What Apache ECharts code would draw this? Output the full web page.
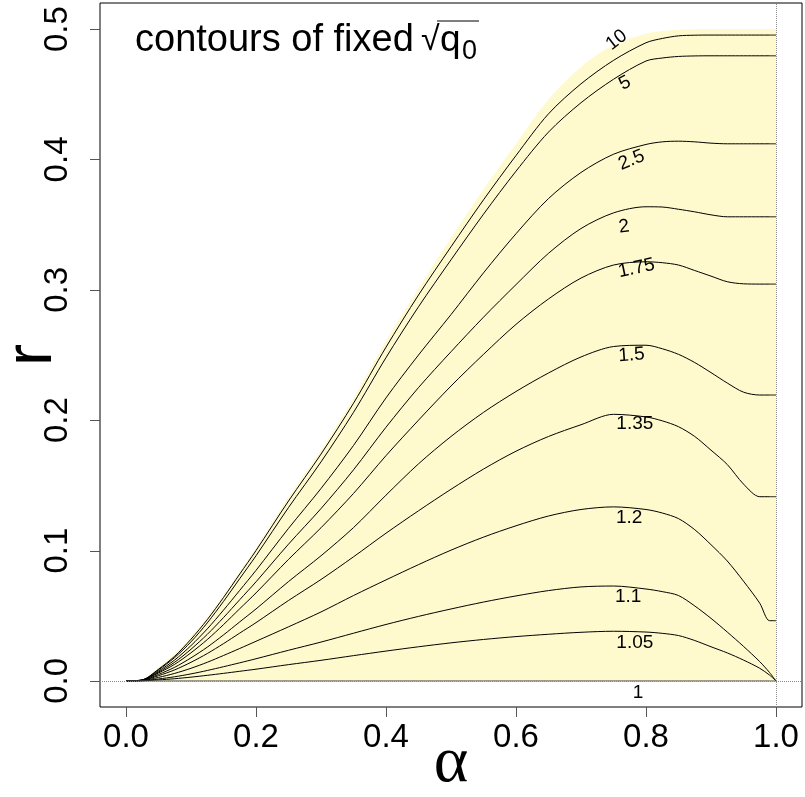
<!DOCTYPE html>
<html>
<head>
<meta charset="utf-8">
<script src="https://cdn.jsdelivr.net/npm/echarts@6/dist/echarts.min.js"></script>
<style>
html,body{margin:0;padding:0;background:#fff;}
#chart{width:805px;height:797px;}
</style>
</head>
<body>
<div id="chart"></div>
<script>
// ---- data ----
const alpha = [0, 0.025, 0.05, 0.075, 0.1, 0.125, 0.15, 0.175, 0.2, 0.25, 0.3, 0.35, 0.4, 0.45, 0.5, 0.55, 0.6, 0.65, 0.7, 0.75, 0.8, 0.825, 0.85, 0.875, 0.9, 0.925, 0.95, 0.975, 0.99, 1.0];

const boundary = [0, 0.0012, 0.0105, 0.021, 0.034, 0.049, 0.066, 0.084, 0.102, 0.141, 0.177, 0.217, 0.261, 0.301, 0.34, 0.377, 0.412, 0.446, 0.471, 0.488, 0.4965, 0.4985, 0.4995, 0.4999, 0.5, 0.5, 0.5, 0.5, 0.5, 0.5];

const r10   = [0, 0.0008, 0.009, 0.019, 0.032, 0.047, 0.064, 0.082, 0.1, 0.138, 0.174, 0.213, 0.256, 0.296, 0.333, 0.369, 0.403, 0.435, 0.458, 0.476, 0.4895, 0.4928, 0.4948, 0.4953, 0.4954, 0.4954, 0.4954, 0.4954, 0.4954, 0.4954];
const r5    = [0, 0.0007, 0.0085, 0.018, 0.030, 0.0445, 0.061, 0.0785, 0.096, 0.133, 0.168, 0.206, 0.248, 0.287, 0.323, 0.358, 0.391, 0.421, 0.4435, 0.4615, 0.4755, 0.4778, 0.479, 0.4794, 0.4795, 0.4795, 0.4795, 0.4795, 0.4795, 0.4795];
const r2_5  = [0, 0.0007, 0.0076, 0.0161, 0.0271, 0.0399, 0.0543, 0.0695, 0.0848, 0.117, 0.1476, 0.1806, 0.2171, 0.25, 0.281, 0.313, 0.343, 0.370, 0.390, 0.404, 0.4115, 0.4135, 0.414, 0.4135, 0.4125, 0.412, 0.412, 0.412, 0.412, 0.412];
const r2    = [0, 0.0006, 0.0068, 0.0144, 0.0243, 0.0357, 0.0486, 0.0623, 0.076, 0.1049, 0.1322, 0.1619, 0.1946, 0.225, 0.2525, 0.279, 0.304, 0.328, 0.347, 0.359, 0.3637, 0.3635, 0.3618, 0.3598, 0.3575, 0.356, 0.356, 0.356, 0.356, 0.356];
const r1_75 = [0, 0.0005, 0.0061, 0.0128, 0.0216, 0.0317, 0.0432, 0.0554, 0.0675, 0.0932, 0.1175, 0.1438, 0.1728, 0.2, 0.2262, 0.2505, 0.2735, 0.293, 0.309, 0.319, 0.3215, 0.3208, 0.319, 0.3148, 0.3105, 0.3062, 0.3046, 0.3044, 0.3044, 0.3044];
const r1_5  = [0, 0.0004, 0.005, 0.0105, 0.0177, 0.0259, 0.0353, 0.0453, 0.0552, 0.0762, 0.096, 0.1176, 0.1425, 0.1665, 0.1875, 0.206, 0.222, 0.2362, 0.2485, 0.2565, 0.2575, 0.2548, 0.2505, 0.2442, 0.2365, 0.2285, 0.2215, 0.2193, 0.2193, 0.2193];
const r1_35 = [0, 0.0004, 0.004, 0.0085, 0.0143, 0.021, 0.0286, 0.0367, 0.0447, 0.0617, 0.0778, 0.0952, 0.1133, 0.1305, 0.147, 0.1625, 0.1762, 0.1875, 0.1965, 0.2045, 0.2025, 0.1995, 0.195, 0.1875, 0.177, 0.166, 0.151, 0.1413, 0.1413, 0.1413];
const r1_2  = [0, 0.0002, 0.0027, 0.0058, 0.0097, 0.0143, 0.0195, 0.0249, 0.0304, 0.0415, 0.0529, 0.0655, 0.0775, 0.0892, 0.1003, 0.1103, 0.119, 0.1265, 0.1315, 0.1335, 0.1315, 0.1288, 0.1245, 0.116, 0.1045, 0.092, 0.0765, 0.0596, 0.0462, 0.0462];
const r1_1  = [0, 0.0001, 0.0015, 0.0032, 0.0054, 0.008, 0.0109, 0.0139, 0.017, 0.0235, 0.0298, 0.0366, 0.0433, 0.0495, 0.0552, 0.0605, 0.0652, 0.0693, 0.0721, 0.0728, 0.0705, 0.0685, 0.0655, 0.0575, 0.048, 0.0375, 0.0265, 0.0148, 0.0065, 0];
const r1_05 = [0, 0.0001, 0.0008, 0.0017, 0.0029, 0.0043, 0.0058, 0.0074, 0.009, 0.0125, 0.0158, 0.0194, 0.0229, 0.0262, 0.0292, 0.0318, 0.034, 0.0358, 0.0373, 0.0381, 0.0375, 0.0365, 0.0348, 0.031, 0.0262, 0.0215, 0.016, 0.0097, 0.0045, 0];
const r1    = [0, 0, 0, 0, 0, 0, 0, 0, 0, 0, 0, 0, 0, 0, 0, 0, 0, 0, 0, 0, 0, 0, 0, 0, 0, 0, 0, 0, 0, 0];

const contourCurves = [r10, r5, r2_5, r2, r1_75, r1_5, r1_35, r1_2, r1_1, r1_05, r1];
const contourLevels = ['10', '5', '2.5', '2', '1.75', '1.5', '1.35', '1.2', '1.1', '1.05', '1'];
const labelAlpha = [0.7547, 0.7675, 0.7777, 0.766, 0.7854, 0.7777, 0.7828, 0.7741, 0.7725, 0.7828, 0.7879];
const labelR     = [0.4916, 0.4586, 0.3995, 0.3484, 0.3165, 0.2500, 0.1971, 0.1248, 0.0642, 0.0294, -0.0094];
const labelAngle = [38, 28, 22, 8, 12, 4, 0, 0, 0, 0, 0];

const xTicks = [0, 0.2, 0.4, 0.6, 0.8, 1.0];
const yTicks = [0, 0.1, 0.2, 0.3, 0.4, 0.5];
const xRange = [-0.04, 1.04];
const yRange = [-0.02, 0.52];

// ---- chart ----
const FONT = "'Liberation Sans', Arial, Helvetica, sans-serif";
const zip = (xs, ys) => xs.map((x, i) => [x, ys[i]]);

const series = [];
series.push({
  type: 'line', data: zip(alpha, boundary), showSymbol: false, silent: true,
  smooth: 0.3,
  lineStyle: { width: 0, color: '#FFFACD' },
  areaStyle: { color: '#FFFACD', opacity: 1 },
  z: 1
});
series.push({
  type: 'line', data: [[1, 0]], showSymbol: false, silent: true,
  lineStyle: { width: 0 },
  markLine: {
    silent: true, symbol: ['none', 'none'], animation: false,
    label: { show: false },
    lineStyle: { type: 'dotted', color: '#8a8a8a', width: 1 },
    data: [{ xAxis: 1 }, { yAxis: 0 }]
  },
  z: 2
});
contourCurves.forEach((c, i) => {
  series.push({
    type: 'line', name: contourLevels[i], data: zip(alpha, c),
    showSymbol: false, silent: true,
    smooth: 0.3,
    lineStyle: { width: 1, color: i === contourCurves.length - 1 ? '#555' : '#000' },
    z: 3
  });
});
series.push({
  type: 'scatter', silent: true, symbolSize: 0,
  itemStyle: { color: '#000', opacity: 1 },
  data: contourLevels.map((lv, i) => ({
    name: lv, value: [labelAlpha[i], labelR[i]],
    label: { rotate: labelAngle[i] }
  })),
  label: {
    show: true, position: 'inside', formatter: p => p.name,
    fontFamily: FONT, fontSize: 19, color: '#000', textBorderWidth: 0, opacity: 1
  },
  z: 4
});

const titleGraphic = [
  { type: 'text', left: 135, top: 22, silent: true,
    style: { text: 'contours of fixed', font: "38px " + FONT, fill: '#000' } },
  { type: 'text', left: 421, top: 24, silent: true,
    style: { text: '√', font: "34px " + FONT, fill: '#000' } },
  { type: 'line', silent: true,
    shape: { x1: 437, y1: 21, x2: 479, y2: 21 },
    style: { stroke: '#000', lineWidth: 1.2 } },
  { type: 'text', left: 440, top: 22, silent: true,
    style: { text: 'q', font: "37px " + FONT, fill: '#000' } },
  { type: 'text', left: 462, top: 38, silent: true,
    style: { text: '0', font: "27px " + FONT, fill: '#000' } }
];

const option = {
  animation: false,
  backgroundColor: '#fff',
  grid: { left: 100, right: 3, top: 3, bottom: 90, containLabel: false, outerBoundsMode: 'none',
          show: true, borderColor: '#000', borderWidth: 1, backgroundColor: 'transparent' },
  xAxis: {
    type: 'value', min: xRange[0], max: xRange[1],
    name: 'α', nameLocation: 'middle', nameGap: 24, nameMoveOverlap: false,
    nameTextStyle: { fontFamily: "'Liberation Serif', 'DejaVu Serif', serif", fontSize: 66, color: '#000', verticalAlign: 'top' },
    axisLine: { show: false, onZero: false },
    splitLine: { show: false },
    axisTick: { show: false },
    axisLabel: { customValues: xTicks, formatter: v => v.toFixed(1), fontFamily: FONT, fontSize: 33, color: '#000', margin: 14 }
  },
  yAxis: {
    type: 'value', min: yRange[0], max: yRange[1],
    name: 'r', nameLocation: 'middle', nameGap: 34, nameRotate: 90, nameMoveOverlap: false,
    nameTextStyle: { fontFamily: FONT, fontSize: 66, color: '#000' },
    axisLine: { show: false, onZero: false },
    splitLine: { show: false },
    axisTick: { show: false },
    axisLabel: { customValues: yTicks, rotate: 90, formatter: v => v.toFixed(1), fontFamily: FONT, fontSize: 33, color: '#000', margin: 26 }
  },
  graphic: { elements: titleGraphic },
  series: series
};

const chart = echarts.init(document.getElementById('chart'), null, { renderer: 'canvas' });
chart.setOption(option);

// tick marks placed with the chart's own axis scales
try {
  const tickLen = 10;
  const tickStyle = { stroke: '#555', lineWidth: 1 };
  const bottomY = chart.convertToPixel({ yAxisIndex: 0 }, yRange[0]);
  const leftX = chart.convertToPixel({ xAxisIndex: 0 }, xRange[0]);
  const tickGraphic = [];
  xTicks.forEach((v, i) => {
    const px = Math.round(chart.convertToPixel({ xAxisIndex: 0 }, v)) + 0.5;
    tickGraphic.push({ type: 'line', id: 'xt' + i, silent: true, z: 100,
      shape: { x1: px, y1: bottomY, x2: px, y2: bottomY + tickLen }, style: tickStyle });
  });
  yTicks.forEach((v, i) => {
    const py = Math.round(chart.convertToPixel({ yAxisIndex: 0 }, v)) + 0.5;
    tickGraphic.push({ type: 'line', id: 'yt' + i, silent: true, z: 100,
      shape: { x1: leftX - tickLen, y1: py, x2: leftX, y2: py }, style: tickStyle });
  });
  chart.setOption({ graphic: { elements: titleGraphic.concat(tickGraphic) } });
} catch (e) {
  console.error(e);
}
</script>
</body>
</html>
